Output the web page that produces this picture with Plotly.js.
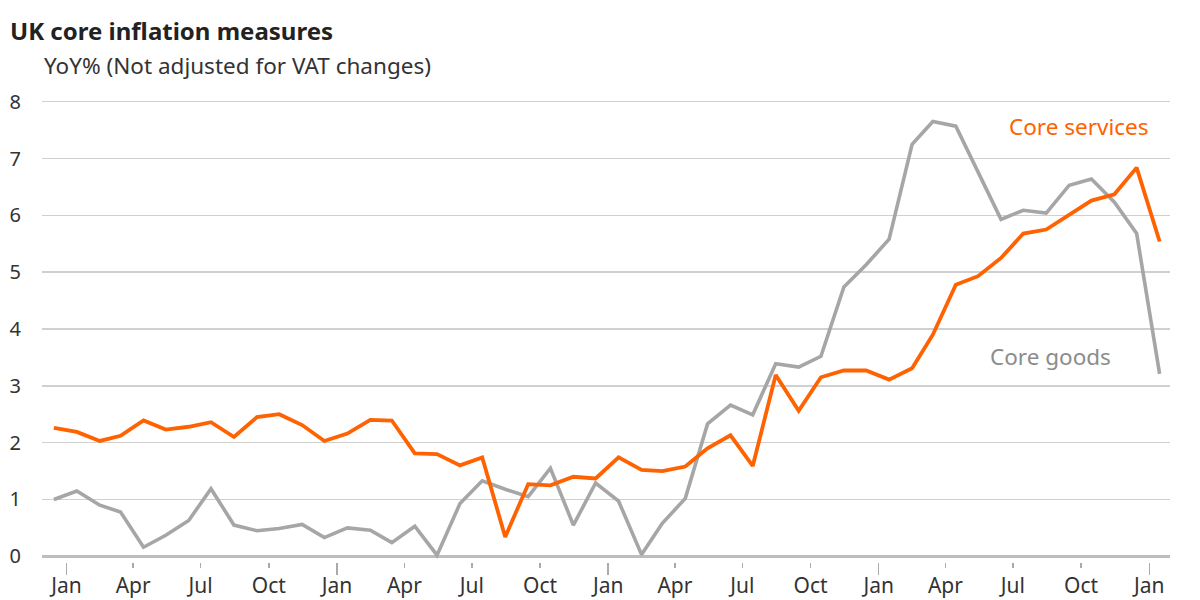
<!DOCTYPE html>
<html>
<head>
<meta charset="utf-8">
<script src="https://cdn.plot.ly/plotly-3.0.1.min.js"></script>
<style>
  html, body { margin: 0; padding: 0; background: #fff; }
  #chart { width: 1200px; height: 600px; }
</style>
</head>
<body>
<div id="chart"></div>
<script>
// Monthly observations (mid-month), Dec 2018 - Jan 2023
const months = [
  "2018-12-15",
  "2019-01-15","2019-02-15","2019-03-15","2019-04-15","2019-05-15","2019-06-15",
  "2019-07-15","2019-08-15","2019-09-15","2019-10-15","2019-11-15","2019-12-15",
  "2020-01-15","2020-02-15","2020-03-15","2020-04-15","2020-05-15","2020-06-15",
  "2020-07-15","2020-08-15","2020-09-15","2020-10-15","2020-11-15","2020-12-15",
  "2021-01-15","2021-02-15","2021-03-15","2021-04-15","2021-05-15","2021-06-15",
  "2021-07-15","2021-08-15","2021-09-15","2021-10-15","2021-11-15","2021-12-15",
  "2022-01-15","2022-02-15","2022-03-15","2022-04-15","2022-05-15","2022-06-15",
  "2022-07-15","2022-08-15","2022-09-15","2022-10-15","2022-11-15","2022-12-15",
  "2023-01-15"
];

const coreServices = [
  2.26, 2.19, 2.03, 2.12, 2.39, 2.23, 2.28, 2.36, 2.10, 2.45,
  2.50, 2.31, 2.03, 2.16, 2.40, 2.39, 1.81, 1.80, 1.60, 1.74,
  0.34, 1.27, 1.25, 1.40, 1.37, 1.74, 1.52, 1.50, 1.58, 1.90,
  2.13, 1.59, 3.19, 2.56, 3.15, 3.27, 3.27, 3.11, 3.31, 3.90,
  4.78, 4.93, 5.25, 5.68, 5.75, 6.00, 6.26, 6.37, 6.84, 5.54
];

const coreGoods = [
  1.00, 1.15, 0.90, 0.78, 0.16, 0.37, 0.63, 1.19, 0.55, 0.45,
  0.49, 0.56, 0.33, 0.50, 0.46, 0.24, 0.53, 0.02, 0.93, 1.33,
  1.18, 1.05, 1.55, 0.55, 1.29, 0.97, 0.03, 0.58, 1.02, 2.33,
  2.66, 2.49, 3.39, 3.33, 3.52, 4.74, 5.13, 5.58, 7.25, 7.65,
  7.57, 6.75, 5.93, 6.09, 6.04, 6.53, 6.64, 6.23, 5.68, 3.21
];

const tickVals = [
  "2019-01-01","2019-04-01","2019-07-01","2019-10-01",
  "2020-01-01","2020-04-01","2020-07-01","2020-10-01",
  "2021-01-01","2021-04-01","2021-07-01","2021-10-01",
  "2022-01-01","2022-04-01","2022-07-01","2022-10-01",
  "2023-01-01"
];
const tickText = [
  "Jan","Apr","Jul","Oct","Jan","Apr","Jul","Oct",
  "Jan","Apr","Jul","Oct","Jan","Apr","Jul","Oct","Jan"
];
const yearTicks = ["2019-01-01","2020-01-01","2021-01-01","2022-01-01","2023-01-01"];

const yTicks = [0, 1, 2, 3, 4, 5, 6, 7, 8];

const ORANGE = "#FF6200";
const GREY = "#A6A6A6";
const FONT = "Noto Sans, Open Sans, sans-serif";
const xRange = ["2018-11-29", "2023-01-29"];

const traces = [
  {
    x: months, y: coreGoods, type: "scatter", mode: "lines",
    name: "Core goods", line: { color: GREY, width: 3.6 },
    hoverinfo: "x+y"
  },
  {
    x: months, y: coreServices, type: "scatter", mode: "lines",
    name: "Core services", line: { color: ORANGE, width: 3.8 },
    hoverinfo: "x+y"
  },
  {
    x: months, y: coreServices, type: "scatter", mode: "lines",
    xaxis: "x2", opacity: 0, showlegend: false, hoverinfo: "skip",
    line: { width: 0 }
  }
];

const layout = {
  width: 1200, height: 600,
  margin: { l: 42, r: 30, t: 96, b: 38 },
  paper_bgcolor: "#fff", plot_bgcolor: "#fff",
  showlegend: false,
  font: { family: FONT, color: "#333", size: 18 },
  xaxis: {
    type: "date", range: xRange,
    tickmode: "array", tickvals: tickVals, ticktext: tickText,
    ticks: "outside", ticklen: 5, tickwidth: 1.5, tickcolor: "#aaa",
    ticklabelstandoff: 0,
    showgrid: false, zeroline: false, showline: false,
    tickfont: { size: 21, color: "#333" }
  },
  xaxis2: {
    type: "date", range: xRange, overlaying: "x", anchor: "y", side: "bottom",
    tickmode: "array", tickvals: yearTicks,
    ticks: "outside", ticklen: 12, tickwidth: 1.5, tickcolor: "#aaa",
    showticklabels: false, showgrid: false, zeroline: false, showline: false
  },
  yaxis: {
    range: [-0.1, 8.1],
    tickmode: "array", tickvals: yTicks,
    showgrid: true, gridcolor: "#d0d0d0", gridwidth: 1.5,
    zeroline: true, zerolinecolor: "#bdbdbd", zerolinewidth: 3.5,
    ticks: "", ticklabelstandoff: 20,
    tickfont: { size: 20, color: "#333" }
  },
  annotations: [
    {
      text: "<b>UK core inflation measures</b>", xref: "paper", yref: "paper",
      x: -0.03, y: 1.0, yshift: 66, xanchor: "left", yanchor: "middle",
      showarrow: false, font: { size: 24, color: "#222", family: FONT }
    },
    {
      text: "YoY% (Not adjusted for VAT changes)", xref: "paper", yref: "paper",
      x: 0.0, y: 1.0, yshift: 31, xanchor: "left", yanchor: "middle",
      showarrow: false, font: { size: 22.5, color: "#333", family: FONT }
    },
    {
      text: "Core services", xref: "paper", yref: "y",
      x: 0.919, y: 7.56, xanchor: "center", yanchor: "middle",
      showarrow: false, font: { size: 22.5, color: ORANGE, family: FONT }
    },
    {
      text: "Core goods", xref: "paper", yref: "y",
      x: 0.894, y: 3.51, xanchor: "center", yanchor: "middle",
      showarrow: false, font: { size: 22.5, color: "#8c8c8c", family: FONT }
    }
  ]
};

Plotly.newPlot("chart", traces, layout, { displayModeBar: false, staticPlot: true });
</script>
</body>
</html>
